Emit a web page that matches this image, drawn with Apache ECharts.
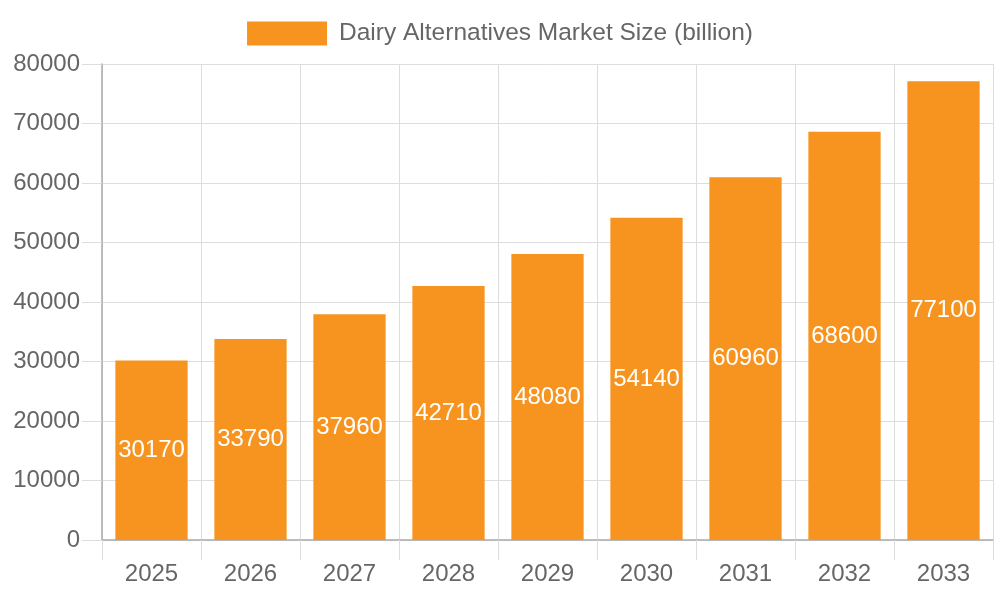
<!DOCTYPE html>
<html>
<head>
<meta charset="utf-8">
<script src="https://cdn.jsdelivr.net/npm/echarts@6/dist/echarts.min.js"></script>
<style>
  html, body { margin: 0; padding: 0; background: #fff; }
  #chart { width: 1000px; height: 600px; }
</style>
</head>
<body>
<div id="chart"></div>
<script>
var years = ['2025', '2026', '2027', '2028', '2029', '2030', '2031', '2032', '2033'];
var marketSize = [30170, 33790, 37960, 42710, 48080, 54140, 60960, 68600, 77100];
var seriesName = 'Dairy Alternatives Market Size (billion)';

var chart = echarts.init(document.getElementById('chart'));
chart.setOption({
  animation: false,
  textStyle: { fontFamily: 'Liberation Sans, Arial, sans-serif' },
  legend: {
    top: 16,
    left: 'center',
    icon: 'rect',
    itemWidth: 80,
    itemHeight: 24,
    textStyle: { fontSize: 24.5, color: '#666', padding: [0, 0, 0, 7] },
    data: [seriesName]
  },
  grid: { left: 102, right: 7, top: 64, bottom: 60, containLabel: false },
  xAxis: {
    type: 'category',
    data: years,
    axisLine: { lineStyle: { color: '#aaa', width: 1.5 } },
    axisTick: { show: true, length: 20, lineStyle: { color: '#ddd' } },
    axisLabel: { fontSize: 24, color: '#666', margin: 22 },
    splitLine: { show: true, lineStyle: { color: '#ddd' } }
  },
  yAxis: {
    type: 'value',
    min: 0,
    max: 80000,
    interval: 10000,
    axisLine: { show: true, lineStyle: { color: '#aaa', width: 1.5 } },
    axisTick: { show: true, length: 20, lineStyle: { color: '#ddd' } },
    axisLabel: {
      fontSize: 24, color: '#666', margin: 22,
      formatter: function (v) { return String(v); }
    },
    splitLine: { show: true, lineStyle: { color: '#ddd' } }
  },
  series: [{
    name: seriesName,
    type: 'bar',
    data: marketSize,
    barWidth: '73%',
    itemStyle: { color: '#F7941F' },
    label: {
      show: true,
      position: 'inside',
      color: '#fff',
      fontSize: 24
    }
  }]
});
</script>
</body>
</html>
